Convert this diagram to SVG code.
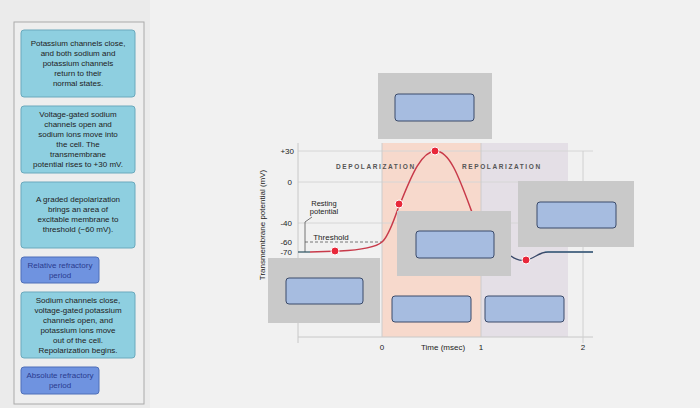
<svg xmlns="http://www.w3.org/2000/svg" width="700" height="408" viewBox="0 0 700 408">
<style>
text{font-family:"Liberation Sans",Arial,sans-serif;fill:#222}
.card{fill:#8ecfe0;stroke:#6aa9bd;stroke-width:1}
.tag{fill:#6f93e0;stroke:#4f6fb8;stroke-width:1}
.ct{font-size:8px;text-anchor:middle}
.tt{font-size:8px;text-anchor:middle;fill:#2a3b8f}
.gray{fill:#c9c9c9}
.slot{fill:#a6bce0;stroke:#3a4a6a;stroke-width:1}
.grid{stroke:#d6d6d6;stroke-width:1}
.ax{font-size:8px;text-anchor:end}
.dot{fill:#e8283a;stroke:#fff;stroke-width:1}
.cap{font-size:6.5px;letter-spacing:1.6px;font-weight:bold;fill:#555}
</style>
<rect width="700" height="408" fill="#ebebeb"/>
<rect x="150" y="0" width="550" height="408" fill="#f1f1f1"/>
<rect x="14" y="22" width="130" height="382" fill="#eeeeee" stroke="#aaa"/>
<g id="card1"><rect class="card" x="21" y="30" width="114" height="67" rx="3"/>
<text class="ct" y="46"><tspan x="78">Potassium channels close,</tspan><tspan x="78" dy="10">and both sodium and</tspan><tspan x="78" dy="10">potassium channels</tspan><tspan x="78" dy="10">return to their</tspan><tspan x="78" dy="10">normal states.</tspan></text></g>
<g id="card2"><rect class="card" x="21" y="106" width="114" height="67" rx="3"/>
<text class="ct" y="117"><tspan x="78">Voltage-gated sodium</tspan><tspan x="78" dy="10">channels open and</tspan><tspan x="78" dy="10">sodium ions move into</tspan><tspan x="78" dy="10">the cell. The</tspan><tspan x="78" dy="10">transmembrane</tspan><tspan x="78" dy="10">potential rises to +30 mV.</tspan></text></g>
<g id="card3"><rect class="card" x="21" y="182" width="114" height="66" rx="3"/>
<text class="ct" y="202"><tspan x="78">A graded depolarization</tspan><tspan x="78" dy="10">brings an area of</tspan><tspan x="78" dy="10">excitable membrane to</tspan><tspan x="78" dy="10">threshold (−60 mV).</tspan></text></g>
<g id="card4"><rect class="tag" x="21" y="257" width="78" height="26" rx="3"/>
<text class="tt" y="268"><tspan x="60">Relative refractory</tspan><tspan x="60" dy="10">period</tspan></text></g>
<g id="card5"><rect class="card" x="21" y="292" width="114" height="66" rx="3"/>
<text class="ct" y="303"><tspan x="78">Sodium channels close,</tspan><tspan x="78" dy="10">voltage-gated potassium</tspan><tspan x="78" dy="10">channels open, and</tspan><tspan x="78" dy="10">potassium ions move</tspan><tspan x="78" dy="10">out of the cell.</tspan><tspan x="78" dy="10">Repolarization begins.</tspan></text></g>
<g id="card6"><rect class="tag" x="21" y="367" width="78" height="27" rx="3"/>
<text class="tt" y="378"><tspan x="60">Absolute refractory</tspan><tspan x="60" dy="10">period</tspan></text></g>

<g id="chart">
<rect x="382" y="143" width="99" height="194" fill="#f7d9cc"/>
<rect x="481" y="143" width="87" height="194" fill="#e4dfe6"/>
<line class="grid" x1="298" y1="151" x2="593" y2="151"/>
<line class="grid" x1="298" y1="182" x2="593" y2="182"/>
<line class="grid" x1="298" y1="223" x2="593" y2="223"/>
<line x1="298" y1="143" x2="298" y2="343" stroke="#c8c8c8"/>
<line x1="298" y1="337" x2="593" y2="337" stroke="#c8c8c8"/>
<line x1="382" y1="143" x2="382" y2="337" stroke="#ccc"/>
<line x1="481" y1="143" x2="481" y2="337" stroke="#ccc"/>
<line x1="583" y1="151" x2="583" y2="343" stroke="#d0d0d0"/>
<text class="ax" x="294" y="154">+30</text><text class="ax" x="292" y="185">0</text><text class="ax" x="292" y="226">-40</text><text class="ax" x="292" y="245">-60</text><text class="ax" x="292" y="255">-70</text>
<text transform="translate(265,225) rotate(-90)" font-size="8" text-anchor="middle">Transmembrane potential (mV)</text>
<text font-size="8" x="382" y="350" text-anchor="middle">0</text>
<text font-size="8" x="443" y="350" text-anchor="middle">Time (msec)</text>
<text font-size="8" x="481" y="350" text-anchor="middle">1</text>
<text font-size="8" x="583" y="350" text-anchor="middle">2</text>
<text class="cap" x="336" y="169">DEPOLARIZATION</text>
<text class="cap" x="462" y="169">REPOLARIZATION</text>
<text font-size="7.5" x="324" y="206" text-anchor="middle">Resting</text><text font-size="7.5" x="324" y="214" text-anchor="middle">potential</text>
<text font-size="8" x="331" y="240" text-anchor="middle">Threshold</text>
<line x1="305" y1="242" x2="382" y2="242" stroke="#777" stroke-dasharray="3,2"/>
<path d="M312,217 L305,222 L305,252" fill="none" stroke="#555" stroke-width="0.8"/>
<line x1="298" y1="252" x2="310" y2="252" stroke="#2a5060" stroke-width="1.2"/>
<path d="M310,252 L340,251 C360,250 375,248 382,242 C390,235 395,215 400,204 C410,180 420,152 435,151 C450,150 460,180 473,215" fill="none" stroke="#c83a4a" stroke-width="1.5"/>
<line x1="545" y1="252" x2="593" y2="252" stroke="#8fe0ee" stroke-width="1.5"/>
<path d="M511,256 C516,260 520,261 526,260 C535,259 538,252 548,252 L593,252" fill="none" stroke="#3a4a6a" stroke-width="1.3"/>
<circle class="dot" cx="335" cy="251" r="4"/>
<circle class="dot" cx="399" cy="204" r="4"/>
<circle class="dot" cx="435" cy="151" r="4"/>
<circle class="dot" cx="526" cy="260" r="4"/>
</g>
<g id="drop1"><rect class="gray" x="378" y="73" width="114" height="66"/><rect class="slot" x="395" y="94" width="79" height="27" rx="3"/></g>
<g id="drop2"><rect class="gray" x="268" y="258" width="112" height="65"/><rect class="slot" x="286" y="278" width="77" height="26" rx="3"/></g>
<g id="drop3"><rect class="gray" x="397" y="211" width="114" height="65"/><rect class="slot" x="416" y="231" width="78" height="27" rx="3"/></g>
<g id="drop4"><rect class="gray" x="518" y="181" width="116" height="66"/><rect class="slot" x="537" y="202" width="79" height="26" rx="3"/></g>
<g id="drop5"><rect class="slot" x="392" y="296" width="79" height="26" rx="3"/></g>
<g id="drop6"><rect class="slot" x="485" y="296" width="79" height="26" rx="3"/></g>
</svg>
